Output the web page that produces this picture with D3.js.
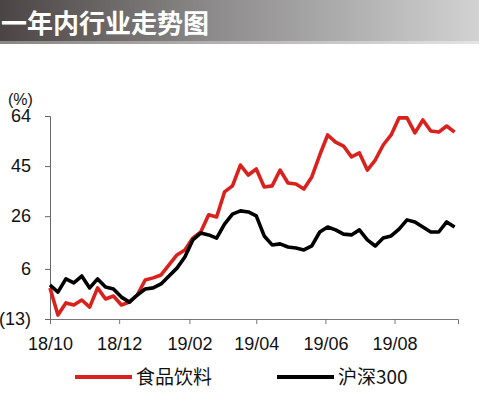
<!DOCTYPE html>
<html>
<head>
<meta charset="utf-8">
<script src="https://cdnjs.cloudflare.com/ajax/libs/d3/7.8.5/d3.min.js"></script>
<style>
  body { margin: 0; background: #fff; }
  svg { display: block; }
</style>
</head>
<body>
<script>
// weekly closes, cumulative % change since 2018/10
var food = [-1.2, -11.5, -6.9, -7.7, -5.8, -8.5, -1.2, -5.4, -4.3, -7.7,
    -6.6, -3.9, 1.8, 2.6, 3.7, 7.5, 11.3, 13.2, 17.7, 20.0,
    26.5, 25.7, 35.2, 37.5, 45.4, 41.6, 43.9, 37.1, 37.5, 43.5,
    38.6, 38.2, 36.3, 40.9, 49.2, 56.8, 54.1, 52.6, 48.5, 50.0,
    43.5, 47.3, 53.0, 56.8, 63.3, 63.3, 57.6, 62.5, 58.3, 57.9,
    60.2, 57.9]
var hs300 = [-0.1, -2.8, 2.2, 0.7, 3.3, -1.2, 2.2, -0.9, -1.6, -4.7,
    -6.6, -3.9, -1.6, -1.2, 0.3, 3.3, 6.3, 10.5, 17.0, 19.6,
    18.9, 17.7, 23.0, 26.8, 28.0, 27.6, 26.1, 18.5, 15.1, 15.5,
    14.3, 13.9, 13.2, 14.7, 20.0, 21.9, 20.8, 19.2, 18.9, 20.8,
    17.0, 14.7, 17.7, 18.5, 21.1, 24.6, 23.8, 21.9, 20.0, 20.0,
    23.8, 21.9]
var yTicks = [-13, 6, 26, 45, 64]
var xTicks = ['2018-10-01', '2018-12-01', '2019-02-01', '2019-04-01', '2019-06-01', '2019-08-01']
var seriesNames = ['食品饮料', '沪深300']

var W = 479, H = 419
var margin = { top: 116, left: 50 },
    width = 408,
    height = 203

var parseDay = d3.timeParse('%Y-%m-%d')
var start = parseDay('2018-10-01')
var dates = food.map((d, i) => d3.timeDay.offset(start, 7 * i))

var x = d3.scaleTime()
    .domain([start, parseDay('2019-09-26')])
    .range([0, width])
var y = d3.scaleLinear().domain([-13, 64]).range([height, 0])

var svg = d3.select('body').append('svg')
    .attr('width', W)
    .attr('height', H)

// title banner
var defs = svg.append('defs')
var grad = defs.append('linearGradient').attr('id', 'band')
grad.append('stop').attr('offset', '0%').attr('stop-color', '#4b4444')
grad.append('stop').attr('offset', '45%').attr('stop-color', '#8d8b8b')
grad.append('stop').attr('offset', '100%').attr('stop-color', '#d2d2d2')
var grad2 = defs.append('linearGradient').attr('id', 'band2')
grad2.append('stop').attr('offset', '0%').attr('stop-color', '#8a8686')
grad2.append('stop').attr('offset', '100%').attr('stop-color', '#e4e4e4')

svg.append('rect').attr('x', 0).attr('y', 0).attr('width', W).attr('height', 41)
    .attr('fill', 'url(#band)')
svg.append('rect').attr('x', 0).attr('y', 41).attr('width', W).attr('height', 3)
    .attr('fill', 'url(#band2)')
svg.append('text')
    .attr('x', 1).attr('y', 33)
    .attr('fill', '#fff')
    .style('font-family', '"Noto Sans CJK SC"')
    .style('font-size', '26px')
    .style('font-weight', 'bold')
    .text('一年内行业走势图')

var g = svg.append('g')
    .attr('transform', 'translate(' + margin.left + ',' + margin.top + ')')

var tickFont = 'Liberation Sans, Arial, sans-serif'

// y axis
var yAxis = g.append('g')
    .call(d3.axisLeft(y).tickValues(yTicks).tickSize(5).tickPadding(14)
        .tickFormat(d => d < 0 ? '(' + Math.abs(d) + ')' : d))
yAxis.selectAll('text').style('font-family', tickFont).style('font-size', '18px').attr('fill', '#111')
yAxis.selectAll('line,path').attr('stroke', '#666')

// x axis
var xAxis = g.append('g')
    .attr('transform', 'translate(0,' + height + ')')
    .call(d3.axisBottom(x).tickValues(xTicks.map(parseDay)).tickSize(5).tickPadding(13)
        .tickFormat(d3.timeFormat('%y/%m')))
xAxis.selectAll('text').style('font-family', tickFont).style('font-size', '18px').attr('fill', '#111')
xAxis.selectAll('line,path').attr('stroke', '#777')

svg.append('text')
    .attr('x', 8).attr('y', 105)
    .style('font-family', tickFont).style('font-size', '16px')
    .attr('fill', '#111')
    .text('(%)')

var line = d3.line()
    .x((d, i) => x(dates[i]))
    .y(d => y(d))

var colors = ['#d9221d', '#000']
;[food, hs300].forEach((s, k) => {
    g.append('path')
        .datum(s)
        .attr('fill', 'none')
        .attr('stroke', colors[k])
        .attr('stroke-width', 3.6)
        .attr('stroke-linejoin', 'round')
        .attr('d', line)
})

// legend
var legend = svg.append('g').attr('transform', 'translate(0,377)')
var legX = [75, 277]
seriesNames.forEach((name, k) => {
    legend.append('line')
        .attr('x1', legX[k]).attr('x2', legX[k] + 57)
        .attr('stroke', colors[k]).attr('stroke-width', 4)
    legend.append('text')
        .attr('x', legX[k] + 61).attr('y', 7)
        .style('font-family', '"Noto Sans CJK SC"')
        .style('font-size', '19px')
        .attr('fill', '#111')
        .text(name)
})
</script>
</body>
</html>
